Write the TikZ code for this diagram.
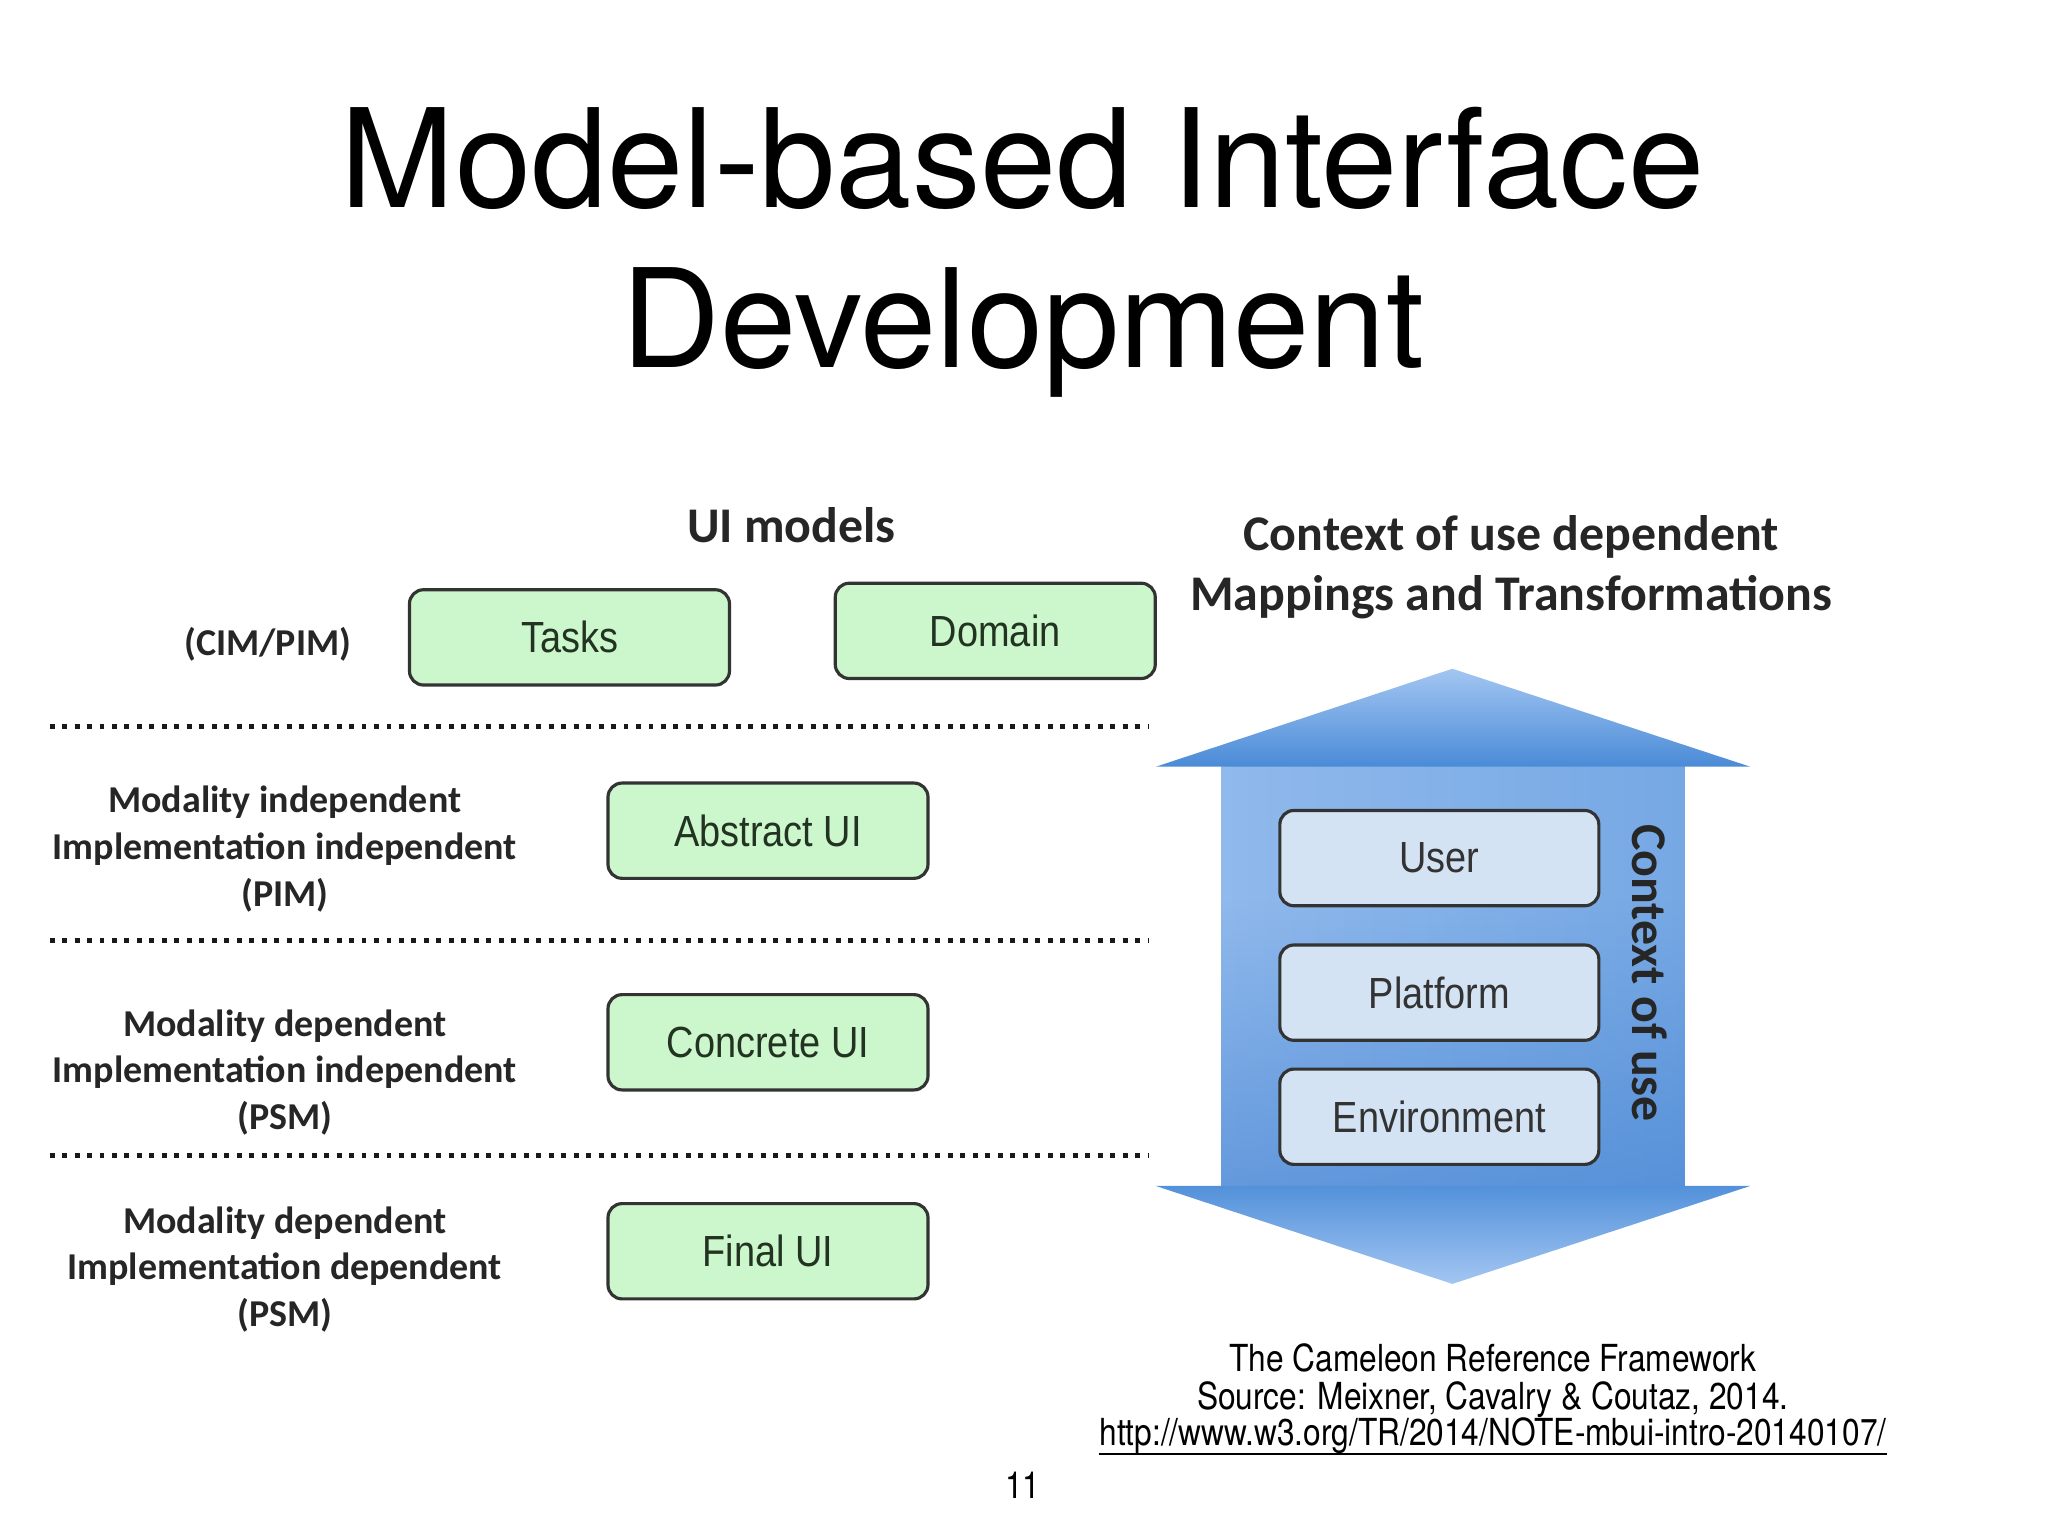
\documentclass[tikz,border=0pt]{standalone}
\usepackage{fontspec}
\setmainfont{Carlito}
\newfontfamily\titlefont{TeX Gyre Heros}
\newfontfamily\boxfont[FakeStretch=0.87]{Liberation Sans}
\newfontfamily\capfont[FakeStretch=0.85]{TeX Gyre Heros}
\usetikzlibrary{fadings}
\definecolor{boxgreen}{HTML}{CCF6CC}
\definecolor{boxblue}{HTML}{D4E3F4}
\definecolor{greentext}{HTML}{223322}
\definecolor{boxtext}{HTML}{333333}
\definecolor{shaftL}{HTML}{90B9EC}
\definecolor{shaftM}{HTML}{A8C9F3}
\definecolor{shaftR}{HTML}{76A8E4}
\definecolor{headlight}{HTML}{A3C6F2}
\definecolor{headdark}{HTML}{4A8BD7}
\definecolor{deepblue}{HTML}{3F7FD0}
\tikzfading[name=fadebottom, top color=transparent!100, bottom color=transparent!0]
\begin{document}
\begin{tikzpicture}[x=0.013061cm,y=-0.013061cm,
  greenbox/.style={draw=black!80, line width=0.9pt, rounded corners=4pt, fill=boxgreen,
    minimum width=3.2cm, minimum height=0.953cm, font=\boxfont\fontsize{12.4}{14}\selectfont, text=greentext},
  bluebox/.style={draw=black!80, line width=0.9pt, rounded corners=4pt, fill=boxblue,
    minimum width=3.19cm, minimum height=0.953cm, font=\boxfont\fontsize{12.4}{14}\selectfont, text=boxtext},
  lefttext/.style={font=\bfseries\fontsize{10.8}{13.3}\selectfont, align=center, text=black!85},
  headtext/.style={font=\bfseries\fontsize{14.2}{17.1}\selectfont, align=center, text=black!85},
  sepline/.style={line width=1.4pt, dash pattern=on 1.4pt off 2.15pt, black!90},
  captext/.style={font=\capfont\fontsize{10.6}{11.5}\selectfont, anchor=base, inner xsep=0pt}]
\useasboundingbox (0,0) rectangle (1568,1176);
\fill[white] (0,0) rectangle (1568,1176);

% title
\node[font=\titlefont\fontsize{39}{45.5}\selectfont, align=center] (title) at (783,193)
  {Model-based Interface\\Development};

% headings
\node[headtext] (uim) at (606,402) {UI models};
\node[headtext] (ctx) at (1157,434) {Context of use dependent\\Mappings and Transformations};

% separators
\coordinate (s1a) at (38,556); \coordinate (s1b) at (880,556);
\coordinate (s2a) at (38,720); \coordinate (s2b) at (880,720);
\coordinate (s3a) at (38,885); \coordinate (s3b) at (880,885);
\draw[sepline] (s1a) -- (s1b);
\draw[sepline] (s2a) -- (s2b);
\draw[sepline] (s3a) -- (s3b);

% left labels
\node[lefttext] (l0) at (205,493) {(CIM/PIM)};
\node[lefttext] (l1) at (218,650) {Modality independent\\Implementation independent\\(PIM)};
\node[lefttext] (l2) at (218,821) {Modality dependent\\Implementation independent\\(PSM)};
\node[lefttext] (l3) at (218,972) {Modality dependent\\Implementation dependent\\(PSM)};

% model boxes
\node[greenbox] (tasks) at (436,488) {Tasks};
\node[greenbox] (domain) at (762,483) {Domain};
\node[greenbox] (aui) at (588,636) {Abstract UI};
\node[greenbox] (cui) at (588,798) {Concrete UI};
\node[greenbox] (fui) at (588,958) {Final UI};

% big double arrow
\shade[left color=shaftL, middle color=shaftM, right color=shaftR] (935,585) rectangle (1290,910);
\fill[deepblue, path fading=fadebottom, fill opacity=0.55] (935,690) rectangle (1290,910);
\shade[top color=headlight, bottom color=headdark] (885,587) -- (1112,512) -- (1340,587) -- cycle;
\shade[top color=headdark!90!headlight, bottom color=headlight] (885,908) -- (1340,908) -- (1112,983) -- cycle;

% context boxes
\node[bluebox] (user) at (1102,657) {User};
\node[bluebox] (platform) at (1102,760) {Platform};
\node[bluebox] (env) at (1102,855) {Environment};
\node[headtext, rotate=-90] (cou) at (1263,745) {Context of use};

% caption
\node[captext] (cap1) at (1143,1050) {The Cameleon Reference Framework};
\node[captext] (cap2) at (1143,1079) {Source: Meixner, Cavalry \& Coutaz, 2014.};
\node[captext] (cap3) at (1143,1107) {http://www.w3.org/TR/2014/NOTE-mbui-intro-20140107/};
\draw[line width=0.6pt] ([yshift=-2.2pt]cap3.base west) -- ([yshift=-2.2pt]cap3.base east);
\node[captext] (pnum) at (783,1147) {11};
\end{tikzpicture}
\end{document}
